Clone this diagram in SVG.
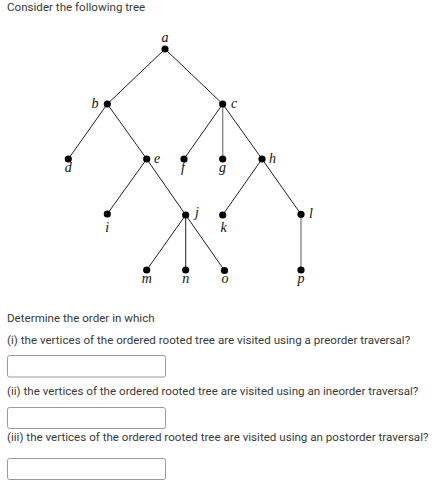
<svg xmlns="http://www.w3.org/2000/svg" width="444" height="501" viewBox="0 0 444 501">
<style>
.t{font-family:Roboto,"Liberation Sans",sans-serif;font-size:11.6px;fill:#3a3a3a}
.lb{font-family:"Liberation Serif","Times New Roman",serif;font-style:italic;font-size:14px;fill:#111}
.e{stroke:#222;stroke-width:1}
.g{stroke:#8a8a8a;stroke-width:1.4}
.v{fill:#000}
.box{fill:#fff;stroke:#9a9a9a;stroke-width:1}
</style>
<rect width="444" height="501" fill="#fff"/>
<text class="t" x="7" y="11">Consider the following tree</text>
<g id="connectors">
<line class="e" x1="165" y1="49" x2="107.3" y2="104"/>
<line class="e" x1="165" y1="49" x2="222.7" y2="104"/>
<line class="e" x1="107.3" y1="104" x2="68.3" y2="159"/>
<line class="e" x1="107.3" y1="104" x2="146.7" y2="159"/>
<line class="e" x1="222.7" y1="104" x2="184" y2="159"/>
<line class="g" x1="222.7" y1="104" x2="222.7" y2="159"/>
<line class="e" x1="222.7" y1="104" x2="262" y2="159"/>
<line class="e" x1="146.7" y1="159" x2="107.3" y2="214"/>
<line class="e" x1="146.7" y1="159" x2="185.7" y2="215"/>
<line class="e" x1="185.7" y1="215" x2="146.7" y2="270"/>
<line class="e" x1="185.7" y1="215" x2="185.7" y2="270"/>
<line class="e" x1="185.7" y1="215" x2="224.5" y2="270.5"/>
<line class="e" x1="262" y1="159" x2="222.7" y2="215"/>
<line class="e" x1="262" y1="159" x2="301" y2="214.3"/>
<line class="g" x1="301" y1="214.3" x2="301" y2="270"/>
</g>
<g id="node-a"><circle class="v" cx="165" cy="49" r="3.6"/><text class="lb" x="165" y="42" text-anchor="middle">a</text></g>
<g id="node-b"><circle class="v" cx="107.3" cy="104" r="3.6"/><text class="lb" x="95" y="108" text-anchor="middle">b</text></g>
<g id="node-c"><circle class="v" cx="222.7" cy="104" r="3.6"/><text class="lb" x="234" y="108" text-anchor="middle">c</text></g>
<g id="node-d"><circle class="v" cx="68.3" cy="159" r="3.6"/><text class="lb" x="68.3" y="172" text-anchor="middle">d</text></g>
<g id="node-e"><circle class="v" cx="146.7" cy="159" r="3.6"/><text class="lb" x="157" y="163" text-anchor="middle">e</text></g>
<g id="node-f"><circle class="v" cx="184" cy="159" r="3.6"/><text class="lb" x="183" y="172" text-anchor="middle">f</text></g>
<g id="node-g"><circle class="v" cx="222.7" cy="159" r="3.6"/><text class="lb" x="222.5" y="172" text-anchor="middle">g</text></g>
<g id="node-h"><circle class="v" cx="262" cy="159" r="3.6"/><text class="lb" x="272.5" y="163" text-anchor="middle">h</text></g>
<g id="node-i"><circle class="v" cx="107.3" cy="214" r="3.6"/><text class="lb" x="107.3" y="232" text-anchor="middle">i</text></g>
<g id="node-j"><circle class="v" cx="185.7" cy="215" r="3.6"/><text class="lb" x="197" y="217" text-anchor="middle">j</text></g>
<g id="node-k"><circle class="v" cx="222.7" cy="215" r="3.6"/><text class="lb" x="223.5" y="232" text-anchor="middle">k</text></g>
<g id="node-l"><circle class="v" cx="301" cy="214.3" r="3.6"/><text class="lb" x="311" y="218" text-anchor="middle">l</text></g>
<g id="node-m"><circle class="v" cx="146.7" cy="270" r="3.6"/><text class="lb" x="146.7" y="283" text-anchor="middle">m</text></g>
<g id="node-n"><circle class="v" cx="185.7" cy="270" r="3.6"/><text class="lb" x="185.7" y="283" text-anchor="middle">n</text></g>
<g id="node-o"><circle class="v" cx="224.5" cy="270.5" r="3.6"/><text class="lb" x="225" y="283" text-anchor="middle">o</text></g>
<g id="node-p"><circle class="v" cx="301" cy="270" r="3.6"/><text class="lb" x="301" y="283" text-anchor="middle">p</text></g>
<text class="t" x="7" y="321.5">Determine the order in which</text>
<text class="t" x="7" y="343.5">(i) the vertices of the ordered rooted tree are visited using a preorder traversal?</text>
<rect class="box" x="7.5" y="355.5" width="158" height="21.5" rx="2"/>
<text class="t" x="7" y="395">(ii) the vertices of the ordered rooted tree are visited using an ineorder traversal?</text>
<rect class="box" x="7.5" y="407.5" width="158" height="21" rx="2"/>
<text class="t" x="7" y="441">(iii) the vertices of the ordered rooted tree are visited using an postorder traversal?</text>
<rect class="box" x="7.5" y="458.5" width="158" height="21" rx="2"/>
</svg>
